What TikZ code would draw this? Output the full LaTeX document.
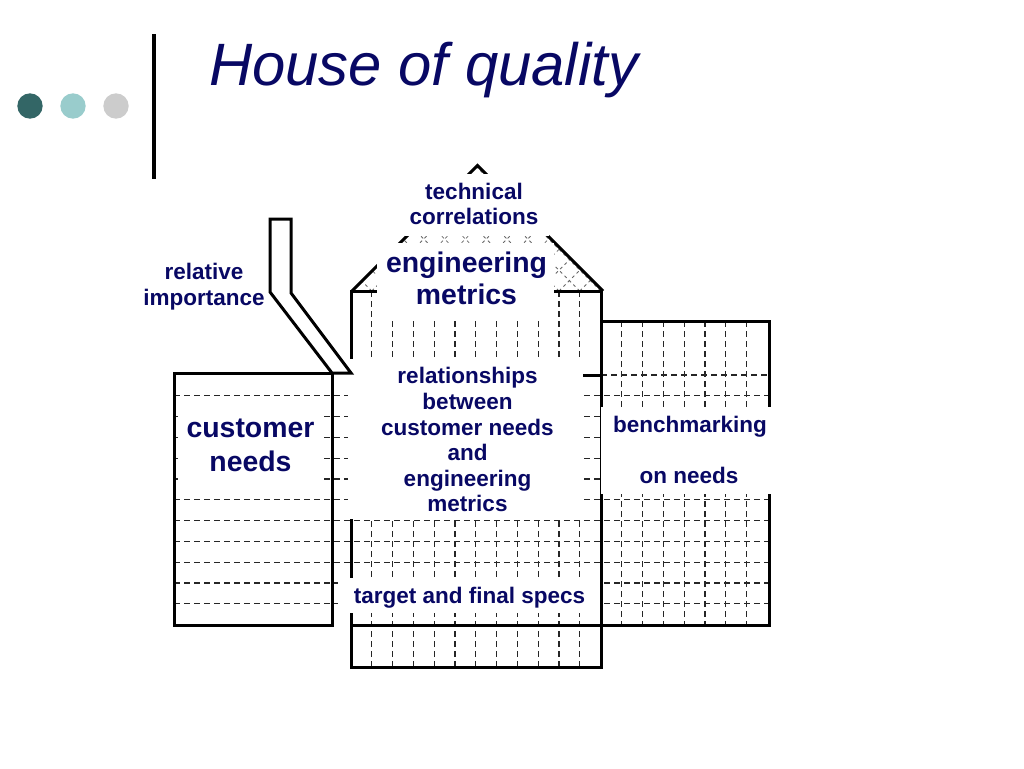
\documentclass[tikz,border=0pt]{standalone}
\usepackage{fontspec}
\setmainfont{Liberation Sans}
\definecolor{navy}{RGB}{8,8,100}
\definecolor{dotA}{RGB}{51,102,102}
\definecolor{dotB}{RGB}{153,204,204}
\definecolor{dotC}{RGB}{204,204,204}
\begin{document}
\begin{tikzpicture}[x=1pt,y=-1pt,
  outline/.style={line width=3pt, line join=miter},
  gridline/.style={line width=1.25pt, black!85, dash pattern=on 5.5pt off 4.5pt},
  roofgrid/.style={line width=0.8pt, black!60, dash pattern=on 3pt off 3.2pt},
  cover/.style={fill=white, draw=none},
  lbl/.style={font=\bfseries\fontsize{22.5}{25}\selectfont, text=navy, inner sep=0pt, anchor=base},
  biglbl/.style={font=\bfseries\fontsize{28.4}{32}\selectfont, text=navy, inner sep=0pt, anchor=base}]
\useasboundingbox (0,0) rectangle (1024,768);
% slide decoration
\fill[dotA] (30,106) circle[radius=12.7pt];
\fill[dotB] (73,106) circle[radius=12.7pt];
\fill[dotC] (116,106) circle[radius=12.7pt];
\fill[black] (151.5,34) rectangle (155.5,179);
\node[anchor=base west, font=\itshape\fontsize{59.8}{62}\selectfont, text=navy, inner sep=0pt] (title) at (209,85) {House of quality};
% roof correlation lattice
\begin{scope}
\clip (352,291) -- (477.5,165.5) -- (603,291) -- cycle;
\foreach \k in {0,...,12} {
  \draw[roofgrid] ({351+20.8*\k},291) -- ++(140,-140);
  \draw[roofgrid] ({351+20.8*\k},291) -- ++(-140,-140);
}
\end{scope}
% grid rows
\foreach \k in {1,...,11} \draw[gridline] (174,{375+20.8*\k}) -- (769,{375+20.8*\k});
\draw[gridline] (601,375) -- (769,375);
% grid columns
\foreach \k in {1,...,11} \draw[gridline] ({351+20.8*\k},291) -- ({351+20.8*\k},667);
\foreach \k in {1,...,7} \draw[gridline] ({601+20.8*\k},321) -- ({601+20.8*\k},625);
% outlines
\draw[outline] (174,373) rectangle (332,625);
\draw[outline] (351,291) rectangle (601,375);
\draw[outline] (351,375) rectangle (601,625);
\draw[outline] (351,625) rectangle (601,667);
\draw[outline] (601,321) rectangle (769,625);
\draw[outline] (352,291) -- (477.5,165.5) -- (603,291);
% white label backgrounds
\fill[cover] (405,174) rectangle (549,236);
\fill[cover] (377,243) rectangle (554,317);
\fill[cover] (348,359) rectangle (583,519);
\fill[cover] (338,578) rectangle (600,613);
\fill[cover] (178,405) rectangle (324,490);
\fill[cover] (601.2,407) rectangle (771,494);
% chimney (relative importance)
\draw[outline] (332,373) -- (270,292) -- (270,219) -- (291,219) -- (291,293) -- (351,373) -- cycle;
% labels
\node[lbl] (ri1) at (204,279) {relative};
\node[lbl] (ri2) at (204,305) {importance};
\node[lbl] (tc1) at (474,199) {technical};
\node[lbl] (tc2) at (474,224) {correlations};
\node[biglbl] (em1) at (466.5,272) {engineering};
\node[biglbl] (em2) at (466.5,304) {metrics};
\node[biglbl] (cn1) at (250.5,437) {customer};
\node[biglbl] (cn2) at (250.5,471) {needs};
\node[lbl] (rl1) at (467.5,383) {relationships};
\node[lbl] (rl2) at (467.5,409) {between};
\node[lbl] (rl3) at (467.5,435) {customer needs};
\node[lbl] (rl4) at (467.5,460) {and};
\node[lbl] (rl5) at (467.5,486) {engineering};
\node[lbl] (rl6) at (467.5,511) {metrics};
\node[lbl] (bm1) at (690,432) {benchmarking};
\node[lbl] (bm2) at (689,483) {on needs};
\node[lbl] (ts) at (469.5,603) {target and final specs};
\end{tikzpicture}
\end{document}
